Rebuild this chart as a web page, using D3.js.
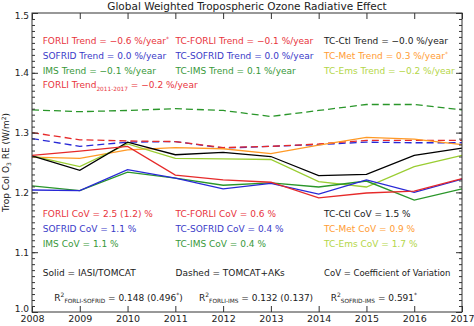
<!DOCTYPE html>
<html>
<head>
<meta charset="utf-8">
<script src="https://cdn.jsdelivr.net/npm/d3@7"></script>
<style>
  html, body { margin: 0; padding: 0; background: #fff; }
  svg { display: block; font-family: "DejaVu Sans", sans-serif; }
</style>
</head>
<body>
<svg id="chart" width="474" height="326"></svg>
<script>
// Years on the x axis
const years = [2008, 2009, 2010, 2011, 2012, 2013, 2014, 2015, 2016, 2017];
const xTickLabels = ["2008", "2009", "2010", "2011", "2012", "2013", "2014", "2015", "2016", "2017"];
const yTickValues = [1.0, 1.1, 1.2, 1.3, 1.4, 1.5];

// Solid lines: IASI retrievals and TOMCAT runs (W/m2)
const forli  = [1.262, 1.269, 1.277, 1.229, 1.221, 1.217, 1.191, 1.199, 1.202, 1.223];
const sofrid = [1.204, 1.203, 1.238, 1.224, 1.206, 1.215, 1.197, 1.221, 1.200, 1.222];
const ims    = [1.211, 1.203, 1.234, 1.224, 1.212, 1.216, 1.209, 1.219, 1.187, 1.206];
const tcCtl  = [1.261, 1.237, 1.284, 1.263, 1.267, 1.260, 1.228, 1.230, 1.262, 1.274];
const tcMet  = [1.259, 1.257, 1.271, 1.275, 1.273, 1.265, 1.279, 1.292, 1.289, 1.280];
const tcEms  = [1.261, 1.243, 1.281, 1.257, 1.256, 1.255, 1.218, 1.209, 1.243, 1.262];

// Dashed lines: TOMCAT with averaging kernels applied
const tcForli  = [1.300, 1.288, 1.286, 1.285, 1.275, 1.277, 1.281, 1.287, 1.287, 1.287];
const tcSofrid = [1.290, 1.277, 1.284, 1.285, 1.274, 1.277, 1.280, 1.284, 1.283, 1.283];
const tcIms    = [1.338, 1.335, 1.337, 1.340, 1.337, 1.327, 1.337, 1.347, 1.347, 1.338];

const C = {
  red: "#e62a2a", blue: "#2828d6", green: "#2a962a",
  orange: "#ff9a26", lime: "#9acd32", black: "#000000"
};
const T = {
  red: "#e8343c", blue: "#3a3ac8", green: "#38983a",
  orange: "#ff9c34", lime: "#b4d648", black: "#1a1a1a"
};

const series = [
  { v: tcIms, c: C.green, dash: true },
  { v: tcSofrid, c: C.blue, dash: true },
  { v: tcForli, c: C.red, dash: true },
  { v: tcMet, c: C.orange },
  { v: tcEms, c: C.lime },
  { v: tcCtl, c: C.black },
  { v: ims, c: C.green },
  { v: sofrid, c: C.blue },
  { v: forli, c: C.red }
];

const svg = d3.select("#chart");
const L = 32, R = 462, TOP = 13, B = 312;

const x = d3.scaleLinear().domain([2008, 2017]).range([L, R]);
const y = d3.scaleLinear().domain([1.0, 1.5]).range([B, TOP]);

const axisColor = "#333";

// Title
svg.append("text")
  .attr("x", (L + R) / 2).attr("y", 10)
  .attr("text-anchor", "middle")
  .attr("font-size", 10.5).attr("fill", "#222")
  .text("Global Weighted Tropospheric Ozone Radiative Effect");

// Lines
const line = d3.line().x((d, i) => x(years[i])).y(d => y(d));
svg.append("g").selectAll("path").data(series).join("path")
  .attr("d", d => line(d.v))
  .attr("fill", "none")
  .attr("stroke", d => d.c)
  .attr("stroke-width", 1.3)
  .attr("stroke-dasharray", d => d.dash ? "7,4" : null);

// Axes: ticks point inward on all four sides
const minorY = d3.range(100, 151).map(v => v / 100);

function styleAxis(g) {
  g.selectAll("path").attr("stroke", axisColor);
  g.selectAll("line").attr("stroke", axisColor);
  g.selectAll("text").attr("fill", "#222").attr("font-family", "DejaVu Sans, sans-serif");
}

// minor y ticks
svg.append("g").attr("transform", `translate(${L},0)`)
  .call(d3.axisLeft(y).tickValues(minorY).tickSizeInner(-3).tickSizeOuter(0).tickFormat(""))
  .call(g => g.select(".domain").remove()).call(styleAxis);
svg.append("g").attr("transform", `translate(${R},0)`)
  .call(d3.axisRight(y).tickValues(minorY).tickSizeInner(-3).tickSizeOuter(0).tickFormat(""))
  .call(g => g.select(".domain").remove()).call(styleAxis);

// major y ticks with labels on the left; end labels are nudged inside the frame
svg.append("g").attr("transform", `translate(${L},0)`)
  .call(d3.axisLeft(y).tickValues(yTickValues).tickSizeInner(-6).tickSizeOuter(0)
    .tickPadding(3).tickFormat(d3.format(".1f")))
  .call(g => g.select(".domain").remove())
  .call(g => g.selectAll("text").attr("font-size", 9)
    .attr("dy", d => d === 1.0 ? "-0.05em" : d === 1.5 ? "0.6em" : "0.32em"))
  .call(styleAxis);
svg.append("g").attr("transform", `translate(${R},0)`)
  .call(d3.axisRight(y).tickValues(yTickValues).tickSizeInner(-6).tickSizeOuter(0).tickFormat(""))
  .call(g => g.select(".domain").remove()).call(styleAxis);

// x ticks, labels under the bottom edge
svg.append("g").attr("transform", `translate(0,${B})`)
  .call(d3.axisBottom(x).tickValues(years).tickSizeInner(-6).tickSizeOuter(0)
    .tickPadding(3).tickFormat((d, i) => xTickLabels[i]))
  .call(g => g.select(".domain").remove())
  .call(g => g.selectAll("text").attr("font-size", 9.5))
  .call(styleAxis);
svg.append("g").attr("transform", `translate(0,${TOP})`)
  .call(d3.axisTop(x).tickValues(years).tickSizeInner(-6).tickSizeOuter(0).tickFormat(""))
  .call(g => g.select(".domain").remove()).call(styleAxis);

// frame
svg.append("rect")
  .attr("x", L).attr("y", TOP).attr("width", R - L).attr("height", B - TOP)
  .attr("fill", "none").attr("stroke", axisColor).attr("stroke-width", 1);

// Y axis title
const yt = svg.append("text")
  .attr("transform", `translate(9,${(TOP + B) / 2}) rotate(-90)`)
  .attr("text-anchor", "middle").attr("font-size", 9).attr("fill", "#222");
yt.append("tspan").text("Trop Col O");
yt.append("tspan").attr("font-size", 6).attr("dy", 2).text("3");
yt.append("tspan").attr("dy", -2).text(" RE (W/m");
yt.append("tspan").attr("font-size", 6).attr("dy", -3.5).text("2");
yt.append("tspan").attr("dy", 3.5).text(")");

// Annotation helper: parts are [text, kind] where kind is "", "sup" or "sub"
function note(xp, yp, color, parts, fs = 9) {
  const t = svg.append("text").attr("x", xp).attr("y", yp)
    .attr("font-size", fs).attr("fill", color);
  let shift = 0;
  parts.forEach(p => {
    const [s, kind] = Array.isArray(p) ? p : [p, ""];
    let target = 0, size = fs;
    if (kind === "sup") { target = -3.5; size = 6; }
    if (kind === "sub") { target = 2.5; size = 5.8; }
    t.append("tspan").attr("dy", target - shift).attr("font-size", size).text(s);
    shift = target;
  });
  return t;
}

const c1 = 42.7, c2 = 175.5, c3 = 324;

// Trend rows
note(c1, 44, T.red, ["FORLI Trend = \u22120.6 %/year", ["*", "sup"]]);
note(c2, 44, T.red, ["TC-FORLI Trend = \u22120.1 %/year"]);
note(c3, 44, T.black, ["TC-Ctl Trend = \u22120.0 %/year"]);
note(c1, 59, T.blue, ["SOFRID Trend = 0.0 %/year"]);
note(c2, 59, T.blue, ["TC-SOFRID Trend = 0.0 %/year"]);
note(c3, 59, T.orange, ["TC-Met Trend = 0.3 %/year", ["*", "sup"]]);
note(c1, 73.5, T.green, ["IMS Trend = \u22120.1 %/year"]);
note(c2, 73.5, T.green, ["TC-IMS Trend = 0.1 %/year"]);
note(c3, 73.5, T.lime, ["TC-Ems Trend = \u22120.2 %/year"]);
note(c1, 88.3, T.red, ["FORLI Trend", ["2011-2017", "sub"], " = \u22120.2 %/year"]);

// Coefficient of variation rows
note(c1, 217.3, T.red, ["FORLI CoV = 2.5 (1.2) %"]);
note(c2, 217.3, T.red, ["TC-FORLI CoV = 0.6 %"]);
note(c3, 217.3, T.black, ["TC-Ctl CoV = 1.5 %"]);
note(c1, 231.8, T.blue, ["SOFRID CoV = 1.1 %"]);
note(c2, 231.8, T.blue, ["TC-SOFRID CoV = 0.4 %"]);
note(c3, 231.8, T.orange, ["TC-Met CoV = 0.9 %"]);
note(c1, 246.7, T.green, ["IMS CoV = 1.1 %"]);
note(c2, 246.7, T.green, ["TC-IMS CoV = 0.4 %"]);
note(c3, 246.7, T.lime, ["TC-Ems CoV = 1.7 %"]);

// Key
note(c1, 276, T.black, ["Solid = IASI/TOMCAT"]);
note(c2, 276, T.black, ["Dashed = TOMCAT+AKs"]);
note(c3, 276, T.black, ["CoV = Coefficient of Variation"], 8.5);

// Correlations
note(54.3, 300.7, T.black, ["R", ["2", "sup"], ["FORLI-SOFRID", "sub"], " = 0.148 (0.496", ["*", "sup"], ")"]);
note(199, 300.7, T.black, ["R", ["2", "sup"], ["FORLI-IMS", "sub"], " = 0.132 (0.137)"]);
note(330.7, 300.7, T.black, ["R", ["2", "sup"], ["SOFRID-IMS", "sub"], " = 0.591", ["*", "sup"]]);
</script>
</body>
</html>
